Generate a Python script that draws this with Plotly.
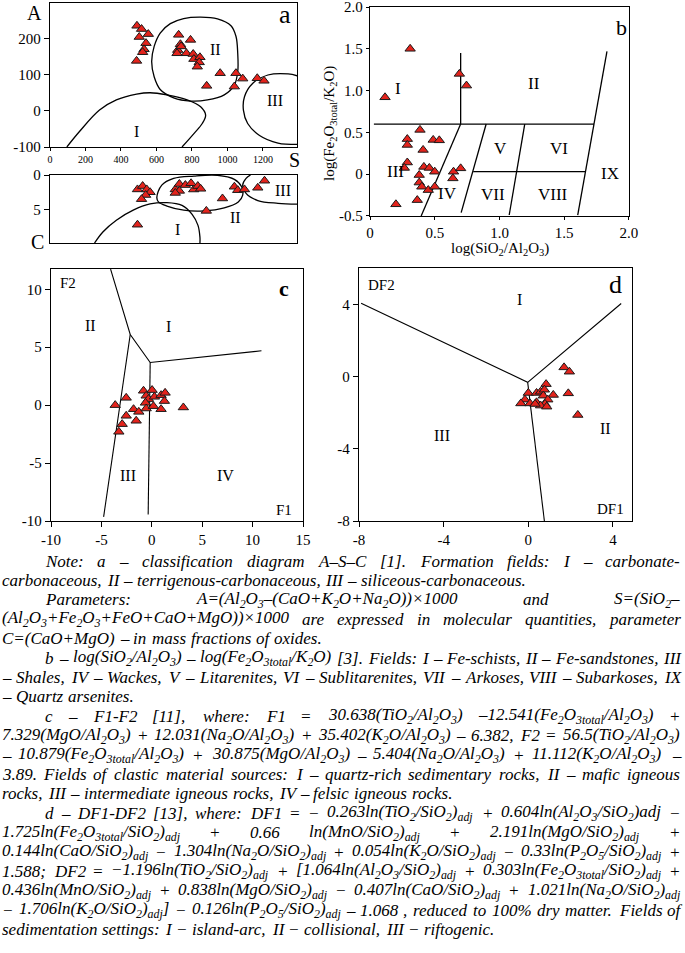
import re
import plotly.graph_objects as go

W, H = 685, 953
SERIF = "Liberation Serif"

# ---------------- data: panel a (A–S, upper) ----------------
a_S = [490, 516, 554, 503, 541, 530, 522, 488, 725, 735, 720, 716, 792, 769, 807, 811,
       845, 841, 830, 883, 959, 1048, 1086, 1039, 1168, 1206, 739]
a_A = [235, 226, 212, 204, 187, 170, 162, 138, 210, 184, 168, 159, 196, 159, 157, 143,
       148, 134, 122, 69, 104, 104, 89, 67, 90, 83, 178]
# panel a (C–S, lower)
ac_S = [493, 522, 545, 564, 539, 516, 706, 729, 729, 706, 763, 795, 810, 833, 849, 972,
        881, 493, 1039, 1058, 1096, 1171, 1209]
ac_C = [2.09, 1.6, 2.09, 2.5, 2.9, 3.5, 2.09, 1.3, 2.3, 2.6, 1.46, 1.2, 2.1, 1.6, 2.0, 3.4,
        5.2, 7.2, 1.7, 2.2, 2.09, 1.85, 0.83]

# field outlines, panel a upper
aI_S = [95, 165, 279, 374, 488, 564, 659, 773, 849, 877, 858, 811, 744]
aI_A = [-100, -58, 2, 30, 46, 50, 44, 30, 11, -12, -35, -63, -100]
aII_S = [573, 587, 621, 678, 753, 849, 944, 1020, 1048, 1058, 1058, 1039, 982, 887, 792, 697, 621, 587, 573]
aII_A = [136, 178, 215, 241, 255, 259, 254, 235, 206, 159, 108, 71, 44, 30, 27, 36, 59, 94, 136]
aIII_S = [1399, 1342, 1228, 1143, 1096, 1090, 1114, 1181, 1285, 1399]
aIII_A = [96, 102, 99, 76, 39, 2, -35, -68, -89, -93]
# field outlines, panel a lower
cI_S = [251, 298, 374, 469, 564, 659, 744, 801, 834, 845, 845]
cI_C = [9.85, 8.25, 6.55, 5.1, 4.2, 4.0, 4.4, 5.7, 7.3, 9.0, 9.85]
cII_S = [602, 630, 697, 811, 944, 1039, 1080, 1086, 1061, 982, 868, 754, 659, 611, 602]
cII_C = [3.25, 1.46, 0.49, 0.15, 0.05, 0.63, 1.7, 2.9, 3.9, 4.76, 5.2, 5.1, 4.5, 3.9, 3.25]
cIII_S = [1399, 1285, 1171, 1105, 1086, 1105, 1130]
cIII_C = [4.22, 4.1, 3.7, 2.67, 1.46, 0.49, 0.0]

# ---------------- data: panel b ----------------
b_x = [0.31, 0.116, 0.69, 0.745, 0.386, 0.288, 0.288, 0.488, 0.535, 0.41, 0.288, 0.265,
       0.416, 0.458, 0.50, 0.38, 0.38, 0.40, 0.45, 0.50, 0.645, 0.70, 0.64, 0.365, 0.20]
b_y = [1.50, 0.92, 1.20, 1.06, 0.53, 0.42, 0.35, 0.41, 0.405, 0.29, 0.14, 0.075,
       0.087, 0.075, 0.03, -0.01, -0.10, -0.15, -0.19, -0.15, 0.03, 0.07, -0.05, -0.31, -0.36]
# boundary segments (None separates segments)
bL_x = [0.03, 1.73, None, 0.70, 0.70, None, 1.83, 1.604, None, 0.70, 0.395, None,
        0.897, 0.704, None, 1.195, 1.075, None, 0.797, 1.666]
bL_y = [0.6, 0.6, None, 0.6, 1.45, None, 1.47, -0.49, None, 0.6, -0.5, None,
        0.6, -0.46, None, 0.6, -0.488, None, 0.03, 0.03]

# ---------------- data: panel c ----------------
c_F1 = [-3.63, -2.54, -2.54, -2.94, -3.27, -1.81, -1.29, -1.55, -0.82, -0.56, -0.33, -0.63,
        -0.56, 0.03, 0.26, 0.16, 0.92, 1.32, 1.25, 0.92, 3.13]
c_F2 = [0, 0.63, -0.92, -1.64, -2.3, -0.35, -0.58, -1.35, 1.24, 0.81, 0.52, 0.2,
        -0.29, 1.3, 0.72, -0.09, 0.86, 1.06, 0.35, -0.35, -0.2]
cL_x = [-4.09, -2.14, -0.16, 10.88, None, -0.16, -0.36, None, -2.14, -4.78]
cL_y = [11.74, 6.1, 3.68, 4.69, None, 3.68, -9.44, None, 6.1, -9.64]

# ---------------- data: panel d ----------------
d_DF1 = [1.69, 1.94, 1.89, 2.34, 0.84, 1.18, 0, -0.16, -0.35, 0.08, 0.39, 0.58, 0.76,
         0.71, 0.92, 0.79, 0.39, 0.58, 0.87, 0.32]
d_DF2 = [0.52, 0.28, -0.92, -2.12, -0.41, -1.01, -0.9, -1.27, -1.48, -1.48, -0.9, -0.83,
         -0.72, -1.05, -1.27, -1.51, -1.42, -1.6, -1.66, -1.51]
dL_x = [-7.9, -0.03, 4.39, None, -0.03, 0.76]
dL_y = [4.08, -0.31, 4.06, None, -0.31, -8.0]

# ---------------- note text ----------------
NOTE_LINES = [
    "Note: a – classification diagram A–S–C [1]. Formation fields: I – carbonate-",
    "carbonaceous, II – terrigenous-carbonaceous, III – siliceous-carbonaceous.",
    "Parameters: A=(Al_{2}O_{3}–(CaO+K_{2}O+Na_{2}O))×1000 and S=(SiO_{2}–",
    "(Al_{2}O_{3}+Fe_{2}O_{3}+FeO+CaO+MgO))×1000 are expressed in molecular quantities, parameter",
    "C=(CaO+MgO) – in mass fractions of oxides.",
    "b – log(SiO_{2}/Al_{2}O_{3}) – log(Fe_{2}O_{3total}/K_{2}O) [3]. Fields: I – Fe-schists, II – Fe-sandstones, III",
    "– Shales, IV – Wackes, V – Litarenites, VI – Sublitarenites, VII – Arkoses, VIII – Subarkoses, IX",
    "– Quartz arsenites.",
    "c – F1-F2 [11], where: F1 = 30.638(TiO_{2}/Al_{2}O_{3}) –12.541(Fe_{2}O_{3total}/Al_{2}O_{3}) +",
    "7.329(MgO/Al_{2}O_{3}) + 12.031(Na_{2}O/Al_{2}O_{3}) + 35.402(K_{2}O/Al_{2}O_{3}) – 6.382, F2 = 56.5(TiO_{2}/Al_{2}O_{3})",
    "– 10.879(Fe_{2}O_{3total}/Al_{2}O_{3}) + 30.875(MgO/Al_{2}O_{3}) – 5.404(Na_{2}O/Al_{2}O_{3}) + 11.112(K_{2}O/Al_{2}O_{3}) –",
    "3.89. Fields of clastic material sources: I – quartz-rich sedimentary rocks, II – mafic igneous",
    "rocks, III – intermediate igneous rocks, IV – felsic igneous rocks.",
    "d – DF1-DF2 [13], where: DF1 = − 0.263ln(TiO_{2}/SiO_{2})_{adj} + 0.604ln(Al_{2}O_{3}/SiO_{2})adj −",
    "1.725ln(Fe_{2}O_{3total}/SiO_{2})_{adj} + 0.66 ln(MnO/SiO_{2})_{adj} + 2.191ln(MgO/SiO_{2})_{adj} +",
    "0.144ln(CaO/SiO_{2})_{adj} − 1.304ln(Na_{2}O/SiO_{2})_{adj} + 0.054ln(K_{2}O/SiO_{2})_{adj} − 0.33ln(P_{2}O_{5}/SiO_{2})_{adj} +",
    "1.588; DF2 = −1.196ln(TiO_{2}/SiO_{2})_{adj} + [1.064ln(Al_{2}O_{3}/SiO_{2})_{adj} + 0.303ln(Fe_{2}O_{3total}/SiO_{2})_{adj} +",
    "0.436ln(MnO/SiO_{2})_{adj} + 0.838ln(MgO/SiO_{2})_{adj} − 0.407ln(CaO/SiO_{2})_{adj} + 1.021ln(Na_{2}O/SiO_{2})_{adj}",
    "− 1.706ln(K_{2}O/SiO_{2})_{adj}] − 0.126ln(P_{2}O_{5}/SiO_{2})_{adj} – 1.068 , reduced to 100% dry matter. Fields of",
    "sedimentation settings: I − island-arc, II − collisional, III − riftogenic.",
]
PARA_START = {0, 2, 5, 8, 13}
PARA_END = {1, 4, 7, 12, 19}

# ---------------- helpers ----------------
TW = {' ': 250, '(': 333, ')': 333, '[': 389, ']': 389, '/': 278, '+': 675, '=': 675,
      ',': 250, '.': 250, ':': 333, ';': 333, '-': 333, '–': 500, '−': 675, '×': 675,
      '%': 833}
for ch in '0123456789':
    TW[ch] = 500
TW.update(dict(zip("ABCDEFGHIJKLMNOPQRSTUVWXYZ",
                   [611, 611, 667, 722, 611, 611, 722, 722, 333, 444, 667, 556, 833, 667, 722,
                    611, 722, 611, 500, 556, 722, 611, 833, 611, 556, 556])))
TW.update(dict(zip("abcdefghijklmnopqrstuvwxyz",
                   [500, 500, 444, 500, 444, 278, 500, 500, 278, 278, 444, 278, 722, 500, 500,
                    500, 500, 389, 389, 278, 500, 444, 667, 444, 444, 389])))


def md(s):
    return re.sub(r"_\{([^}]*)\}", r"<sub>\1</sub>", s)


def tw(s, size):
    tot = 0.0
    for p in re.split(r"(_\{[^}]*\})", s):
        if p.startswith("_{"):
            tot += sum(TW.get(c, 500) for c in p[2:-1]) * 0.7
        else:
            tot += sum(TW.get(c, 500) for c in p)
    return tot * size / 1000.0


def px(x):
    return x / W


def py(y):
    return 1 - y / H


# ---------------- figure ----------------
fig = go.Figure()
mk = dict(symbol="triangle-up", size=9, color="#e3231c", line=dict(color="#1a1a1a", width=1))
ln = dict(color="black", width=1.3)
lnt = dict(color="black", width=1.1)


def add_line(x, y, xa, ya, spline=False, style=ln):
    fig.add_trace(go.Scatter(x=x, y=y, mode="lines", line=dict(style, shape="spline" if spline else "linear"),
                             xaxis=xa, yaxis=ya, hoverinfo="skip", showlegend=False))


def add_pts(x, y, xa, ya):
    fig.add_trace(go.Scatter(x=x, y=y, mode="markers", marker=mk, xaxis=xa, yaxis=ya,
                             showlegend=False, cliponaxis=False))


# panel a upper
add_line(aI_S, aI_A, "x", "y", True)
add_line(aII_S, aII_A, "x", "y", True)
add_line(aIII_S, aIII_A, "x", "y", True)
add_pts(a_S, a_A, "x", "y")
# panel a lower
add_line(cI_S, cI_C, "x2", "y2", True)
add_line(cII_S, cII_C, "x2", "y2", True)
add_line(cIII_S, cIII_C, "x2", "y2", True)
add_pts(ac_S, ac_C, "x2", "y2")
# panel b
add_line(bL_x, bL_y, "x3", "y3")
add_pts(b_x, b_y, "x3", "y3")
# panel c
add_line(cL_x, cL_y, "x4", "y4", style=lnt)
add_pts(c_F1, c_F2, "x4", "y4")
# panel d
add_line(dL_x, dL_y, "x5", "y5", style=lnt)
add_pts(d_DF1, d_DF2, "x5", "y5")

tf = dict(family=SERIF, size=15, color="black")
common = dict(showline=True, mirror=True, linecolor="black", linewidth=1.3, showgrid=False,
              zeroline=False, ticks="outside", ticklen=5, tickcolor="black", tickwidth=1,
              tickfont=tf, fixedrange=True, automargin=False, ticklabeloverflow="allow")


def ax(**kw):
    d = dict(common)
    d.update(kw)
    return d


fig.update_layout(
    template="none",
    width=W, height=H, margin=dict(l=0, r=0, t=0, b=0, autoexpand=False),
    paper_bgcolor="white", plot_bgcolor="white", showlegend=False,
    xaxis=ax(domain=[px(50), px(297)], range=[0, 1392], anchor="y",
             tickvals=[0, 200, 400, 600, 800, 1000, 1200],
             tickfont=dict(family=SERIF, size=10, color="black"), ticklen=3),
    yaxis=ax(domain=[py(147), py(3)], range=[-100, 298], anchor="x",
             tickvals=[-100, 0, 100, 200], ticktext=["-100", "0", "100", "200"]),
    xaxis2=ax(domain=[px(50), px(297)], range=[0, 1392], anchor="y2",
              showticklabels=False, ticks=""),
    yaxis2=ax(domain=[py(243), py(175)], range=[9.85, 0], anchor="x2",
              tickvals=[0, 5], ticktext=["0", "5"]),
    xaxis3=ax(domain=[px(370), px(629)], range=[-0.0001, 2.0001], anchor="y3", ticklen=3,
              tickvals=[0, 0.5, 1, 1.5, 2], ticktext=["0", "0.5", "1.0", "1.5", "2.0"]),
    yaxis3=ax(domain=[py(216), py(7)], range=[-0.5001, 2.0001], anchor="x3", ticklen=3,
              tickvals=[-0.5, 0, 0.5, 1, 1.5, 2], ticktext=["-0.5", "0", "0.5", "1.0", "1.5", "2.0"]),
    xaxis4=ax(domain=[px(51), px(303)], range=[-10, 15], anchor="y4",
              tickvals=[-10, -5, 0, 5, 10, 15], ticktext=["-10", "-5", "0", "5", "10", "15"]),
    yaxis4=ax(domain=[py(521), py(269)], range=[-10, 11.75], anchor="x4",
              tickvals=[-10, -5, 0, 5, 10], ticktext=["-10", "-5", "0", "5", "10"]),
    xaxis5=ax(domain=[px(359), px(632)], range=[-8, 4.9], anchor="y5",
              tickvals=[-8, -4, 0, 4], ticktext=["-8", "-4", "0", "4"]),
    yaxis5=ax(domain=[py(521), py(268)], range=[-8, 6.03], anchor="x5",
              tickvals=[-8, -4, 0, 4], ticktext=["-8", "-4", "0", "4"]),
)

ann = []


def lab(text, x, y, xr, yr, size=16, bold=False, **kw):
    t = "<b>" + text + "</b>" if bold else text
    d = dict(text=t, x=x, y=y, xref=xr, yref=yr, showarrow=False, xanchor="center",
             yanchor="middle", font=dict(family=SERIF, size=size, color="black"))
    d.update(kw)
    ann.append(d)


# panel a labels
lab("I", 488, -58, "x", "y")
lab("II", 930, 169, "x", "y")
lab("III", 1270, 28, "x", "y")
lab("a", 1327, 266, "x", "y", size=26)
lab("A", px(34), py(13), "paper", "paper", size=20)
lab("S", px(294), py(160), "paper", "paper", size=20)
lab("C", px(37), py(242), "paper", "paper", size=20)
lab("I", 716, 7.9, "x2", "y2")
lab("II", 1048, 6.2, "x2", "y2")
lab("III", 1314, 2.2, "x2", "y2")
# panel b labels
for t, x, y in [("I", 0.213, 1.02), ("II", 1.27, 1.09), ("III", 0.2, 0.03), ("IV", 0.60, -0.23),
                ("V", 1.01, 0.305), ("VI", 1.46, 0.305), ("VII", 0.95, -0.24),
                ("VIII", 1.41, -0.24), ("IX", 1.856, 0.008)]:
    lab(t, x, y, "x3", "y3", size=17)
lab("b", 1.94, 1.76, "x3", "y3", size=22)
lab("log(Fe<sub>2</sub>O<sub>3total</sub>/K<sub>2</sub>O)", px(330), py(124), "paper", "paper",
    size=15, textangle=-90)
lab("log(SiO<sub>2</sub>/Al<sub>2</sub>O<sub>3</sub>)", px(500), py(249), "paper", "paper", size=15)
# panel c labels
lab("F2", -8.3, 10.5, "x4", "y4", size=15)
lab("c", 13.1, 10.1, "x4", "y4", size=22, bold=True)
lab("II", -6.1, 6.9, "x4", "y4")
lab("I", 1.65, 6.8, "x4", "y4")
lab("III", -2.37, -6.04, "x4", "y4")
lab("IV", 7.35, -6.04, "x4", "y4")
lab("F1", 13.1, -9.06, "x4", "y4", size=15)
# panel d labels
lab("DF2", -6.95, 5.07, "x5", "y5", size=15)
lab("d", 4.1, 5.1, "x5", "y5", size=26)
lab("I", -0.4, 4.3, "x5", "y5")
lab("III", -4.07, -3.27, "x5", "y5")
lab("II", 3.66, -2.86, "x5", "y5")
lab("DF1", 3.87, -7.32, "x5", "y5", size=15)

# note text, justified word by word
FS0 = 17.0
LEFT, RIGHT, INDENT = 1.0, 679.0, 43.0
Y0, DY = 561.0, 19.4
MINGAP = 3.0
for i, line in enumerate(NOTE_LINES):
    yv = Y0 + i * DY
    x0 = LEFT + (INDENT if i in PARA_START else 0.0)
    words = line.split(" ")
    fs = FS0
    nat = sum(tw(w, fs) for w in words)
    if i not in PARA_END and nat + MINGAP * (len(words) - 1) > RIGHT - x0:
        fs = FS0 * (RIGHT - x0 - MINGAP * (len(words) - 1)) / nat
    fs = round(fs, 1)
    widths = [tw(w, fs) for w in words]
    if i in PARA_END or len(words) < 2:
        gap = tw(" ", fs) + 0.8
    else:
        gap = (RIGHT - x0 - sum(widths)) / (len(words) - 1)
    xc = x0
    for w, wd in zip(words, widths):
        ann.append(dict(text=md(w), x=px(xc), y=py(yv), xref="paper", yref="paper",
                        xanchor="left", yanchor="middle", showarrow=False, borderpad=0,
                        font=dict(family=SERIF, size=fs, color="black", style="italic")))
        xc += wd + gap

fig.update_layout(annotations=ann)
fig.write_html("out.html")
